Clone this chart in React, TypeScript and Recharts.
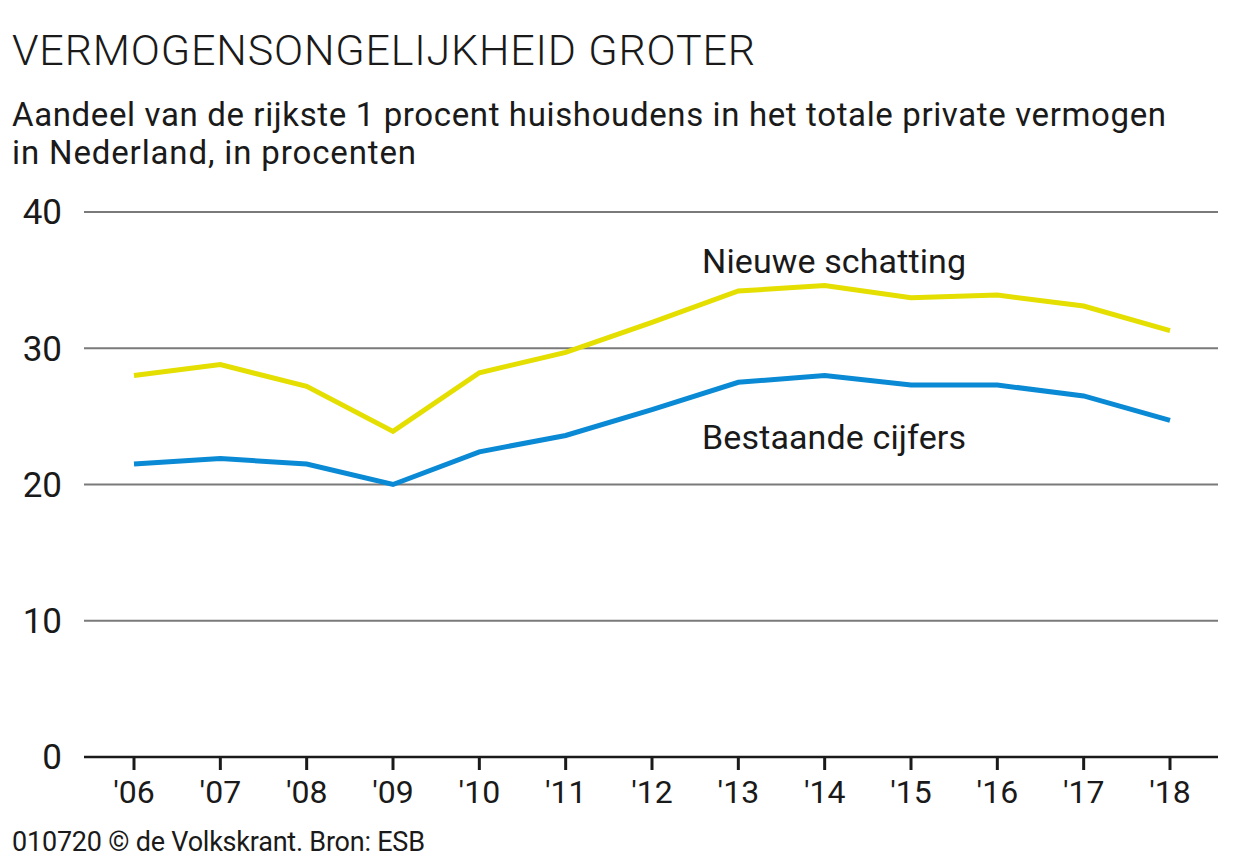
import { CartesianGrid, Line, LineChart, XAxis, YAxis } from "recharts";

const years = ["'06", "'07", "'08", "'09", "'10", "'11", "'12", "'13", "'14", "'15", "'16", "'17", "'18"];
const nieuweSchatting = [28.0, 28.8, 27.2, 23.9, 28.2, 29.7, 31.9, 34.2, 34.6, 33.7, 33.9, 33.1, 31.3];
const bestaandeCijfers = [21.5, 21.9, 21.5, 20.0, 22.4, 23.6, 25.5, 27.5, 28.0, 27.3, 27.3, 26.5, 24.7];
const yTicks = [0, 10, 20, 30, 40];

const YELLOW = "#e4df00";
const BLUE = "#0a8ad4";
const INK = "#1a1a1a";
const FONT = "Roboto, sans-serif";

const rows = years.map((year, i) => ({
  year,
  nieuw: nieuweSchatting[i],
  bestaand: bestaandeCijfers[i],
}));

export default function App() {
  return (
    <div
      style={{
        position: "absolute",
        left: 0,
        top: 0,
        width: 1240,
        height: 864,
        background: "#fff",
        fontFamily: FONT,
      }}
    >
      <LineChart
        width={1240}
        height={864}
        data={rows}
        margin={{ top: 212, right: 22, bottom: 67, left: 0 }}
      >
        <CartesianGrid vertical={false} stroke="#7a7a7a" strokeWidth={2} />
        <XAxis
          dataKey="year"
          height={40}
          padding={{ left: 50, right: 48 }}
          axisLine={{ stroke: INK, strokeWidth: 2.5 }}
          tickLine={{ stroke: INK, strokeWidth: 3 }}
          tickSize={13}
          tickMargin={10}
          tick={{ fontSize: 32, fill: INK, fontFamily: FONT }}
        />
        <YAxis
          width={84}
          domain={[0, 40]}
          ticks={yTicks}
          axisLine={false}
          tickLine={false}
          tickMargin={16}
          tick={{ fontSize: 35, fill: INK, fontFamily: FONT }}
        />
        <Line
          type="linear"
          dataKey="nieuw"
          stroke={YELLOW}
          strokeWidth={5}
          dot={false}
          isAnimationActive={false}
        />
        <Line
          type="linear"
          dataKey="bestaand"
          stroke={BLUE}
          strokeWidth={5}
          dot={false}
          isAnimationActive={false}
        />
      </LineChart>

      <svg
        width={1240}
        height={864}
        style={{ position: "absolute", left: 0, top: 0, pointerEvents: "none" }}
        fontFamily={FONT}
        fill={INK}
      >
        <text x={12} y={65} fontSize={43} fontWeight={300} textLength={743}>
          VERMOGENSONGELIJKHEID GROTER
        </text>
        <text x={12} y={126} fontSize={33} textLength={1154}>
          Aandeel van de rijkste 1 procent huishoudens in het totale private vermogen
        </text>
        <text x={12} y={164} fontSize={33} textLength={404}>
          in Nederland, in procenten
        </text>
        <text x={702} y={273} fontSize={34} textLength={264}>
          Nieuwe schatting
        </text>
        <text x={702} y={449} fontSize={34} textLength={264}>
          Bestaande cijfers
        </text>
        <text x={12} y={851} fontSize={27} textLength={413}>
          010720 © de Volkskrant. Bron: ESB
        </text>
      </svg>
    </div>
  );
}
